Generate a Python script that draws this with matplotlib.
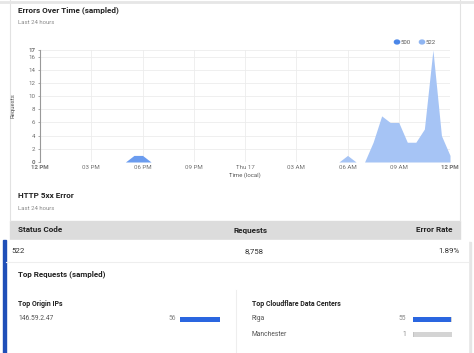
import numpy as np
import matplotlib
matplotlib.use('Agg')
import matplotlib.pyplot as plt
from matplotlib.patches import Rectangle

plt.rcParams['font.family'] = ['Roboto', 'DejaVu Sans']

# samples every 30 minutes, 0 = 12 PM Wed
hours = np.arange(0, 24.5, 0.5)
errors_500 = [0, 0, 0, 0, 0, 0, 0, 0, 0, 0, 0, 1, 1, 0, 0, 0, 0, 0, 0, 0,
              0, 0, 0, 0, 0, 0, 0, 0, 0, 0, 0, 0, 0, 0, 0, 0, 0, 0, 0, 0,
              0, 0, 0, 0, 0, 0, 0, 0, 0]
errors_522 = [0, 0, 0, 0, 0, 0, 0, 0, 0, 0, 0, 0, 0, 0, 0, 0, 0, 0, 0, 0,
              0, 0, 0, 0, 0, 0, 0, 0, 0, 0, 0, 0, 0, 0, 0, 0, 1, 0, 0, 3,
              7, 6, 6, 3, 3, 5, 17, 4, 1]
tick_hours = [0, 3, 6, 9, 12, 15, 18, 21, 24]
tick_labels = ['12 PM', '03 PM', '06 PM', '09 PM', 'Thu 17', '03 AM', '06 AM', '09 AM', '12 PM']

status_code = '522'
status_requests = '8,758'
status_rate = '1.89%'
origin_ips = ['146.59.2.47']
origin_counts = [56]
colos = ['Riga', 'Manchester']
colo_counts = [55, 1]

W, H = 474, 353
C500 = '#6b9cef'
C522 = '#a6c4f5'
BLUE = '#2a66e0'
DARK = '#222222'
GREY = '#8a8a8a'

fig = plt.figure(figsize=(W / 100, H / 100), dpi=100)


def px(x, y):
    return x / W, 1 - y / H


def box(x0, y0, x1, y1):
    # pixel box -> axes rect
    return [x0 / W, 1 - y1 / H, (x1 - x0) / W, (y1 - y0) / H]


def txt(x, y, s, size=5.2, bold=False, color=DARK, ha='left'):
    fig.text(*px(x, y), s, fontsize=size, fontweight='bold' if bold else 'normal',
             color=color, ha=ha, va='center', zorder=5)


def rect(x0, y0, x1, y1, color):
    fig.add_artist(Rectangle(px(x0, y1), (x1 - x0) / W, (y1 - y0) / H, color=color,
                             transform=fig.transFigure, zorder=-2))


def line(x0, y0, x1, y1, color, lw=0.8):
    fig.add_artist(plt.Line2D([x0 / W, x1 / W], [1 - y0 / H, 1 - y1 / H],
                              color=color, lw=lw, zorder=-1))


# card frame and background bits
line(10, 0, 10, 221, '#e2e2e2')
line(460, 0, 460, 221, '#e2e2e2')
line(0, 1.5, 474, 1.5, '#e6e6e6', lw=2)

txt(18, 10, 'Errors Over Time (sampled)', size=5.9, bold=True)
txt(18, 22, 'Last 24 hours', size=4.3, color=GREY)

# chart
ax = fig.add_axes(box(40, 50, 450, 162))
ax.fill_between(hours, errors_522, color=C522, lw=0)
ax.fill_between(hours, errors_500, color=C500, lw=0)
ax.set_xlim(0, 24)
ax.set_ylim(0, 17)
ax.set_yticks(list(range(0, 17, 2)) + [17])
ax.set_yticklabels([str(v) for v in range(0, 17, 2)] + ['17'])
ax.set_xticks(tick_hours)
ax.set_xticklabels(tick_labels)
for lab in ax.get_yticklabels():
    if lab.get_text() in ('0', '17'):
        lab.set_fontweight('bold')
        lab.set_color(DARK)
xl = ax.get_xticklabels()
for lab in (xl[0], xl[-1]):
    lab.set_fontweight('bold')
    lab.set_color(DARK)
ax.tick_params(axis='both', labelsize=4.4, colors='#707070', length=0, pad=2)
ax.tick_params(axis='y', length=1.5, width=0.6, color='#999999')
ax.grid(True, color='#ececec', lw=0.6)
ax.set_axisbelow(True)
for s in ('top', 'right', 'bottom'):
    ax.spines[s].set_visible(False)
ax.spines['left'].set_color('#999999')
ax.spines['left'].set_linewidth(0.8)
ax.set_xlabel('Time (local)', fontsize=4.3, color='#555555', labelpad=2)
ax.set_ylabel('Requests', fontsize=4.3, color='#555555', labelpad=9)

# legend
fig.add_artist(plt.Circle(px(397, 42), 2.6 / W, color='#4a86e8', transform=fig.transFigure))
txt(401, 42, '500', size=4.3, color='#555555')
fig.add_artist(plt.Circle(px(422, 42), 2.6 / W, color='#8fb5f2', transform=fig.transFigure))
txt(426, 42, '522', size=4.3, color='#555555')

txt(18, 195, 'HTTP 5xx Error', size=5.9, bold=True)
txt(18, 208, 'Last 24 hours', size=4.3, color=GREY)

# table header
rect(10, 221, 460, 240, '#dcdcdc')
txt(18, 230, 'Status Code', size=5.9, bold=True)
txt(250, 230, 'Requests', size=5.9, bold=True, ha='center')
txt(452, 230, 'Error Rate', size=5.9, bold=True, ha='right')

# expanded row card
rect(5, 242, 471, 355, '#e6e6e6')
rect(3, 240, 468, 355, 'white')
rect(3, 240, 5.5, 355, '#1f4fb8')
line(6, 262, 468, 262, '#eeeeee')
line(236, 290, 236, 353, '#eeeeee')

txt(11, 251, status_code, size=5.7, color='#333333')
txt(245, 251, status_requests, size=5.7, color='#333333')
txt(460, 251, status_rate, size=5.7, color='#333333', ha='right')

txt(18, 274, 'Top Requests (sampled)', size=5.8, bold=True)
txt(18, 304, 'Top Origin IPs', size=5.0, bold=True)
txt(252, 304, 'Top Cloudflare Data Centers', size=5.0, bold=True)

total = sum(origin_counts)
row_y = [319, 334]


def bar(x0, x1, y, n):
    b = fig.add_axes(box(x0, y - 2.5, x1, y + 2.5))
    b.barh(0, total, color='#d4d4d4', height=1)
    b.barh(0, n, color=BLUE if n > 1 else '#c4c4c4', height=1)
    b.set_xlim(0, total)
    b.set_ylim(-0.5, 0.5)
    b.axis('off')


# origin ip bars
for i, (name, n) in enumerate(zip(origin_ips, origin_counts)):
    txt(18, row_y[i], name, size=4.9, color='#555555')
    txt(176, row_y[i], str(n), size=4.9, color=GREY, ha='right')
    bar(180, 220, row_y[i], n)

# data center bars
for i, (name, n) in enumerate(zip(colos, colo_counts)):
    txt(252, row_y[i], name, size=4.9, color='#555555')
    txt(406, row_y[i], str(n), size=4.9, color=GREY, ha='right')
    bar(413, 452, row_y[i], n)

fig.savefig('out.png', dpi=100)
